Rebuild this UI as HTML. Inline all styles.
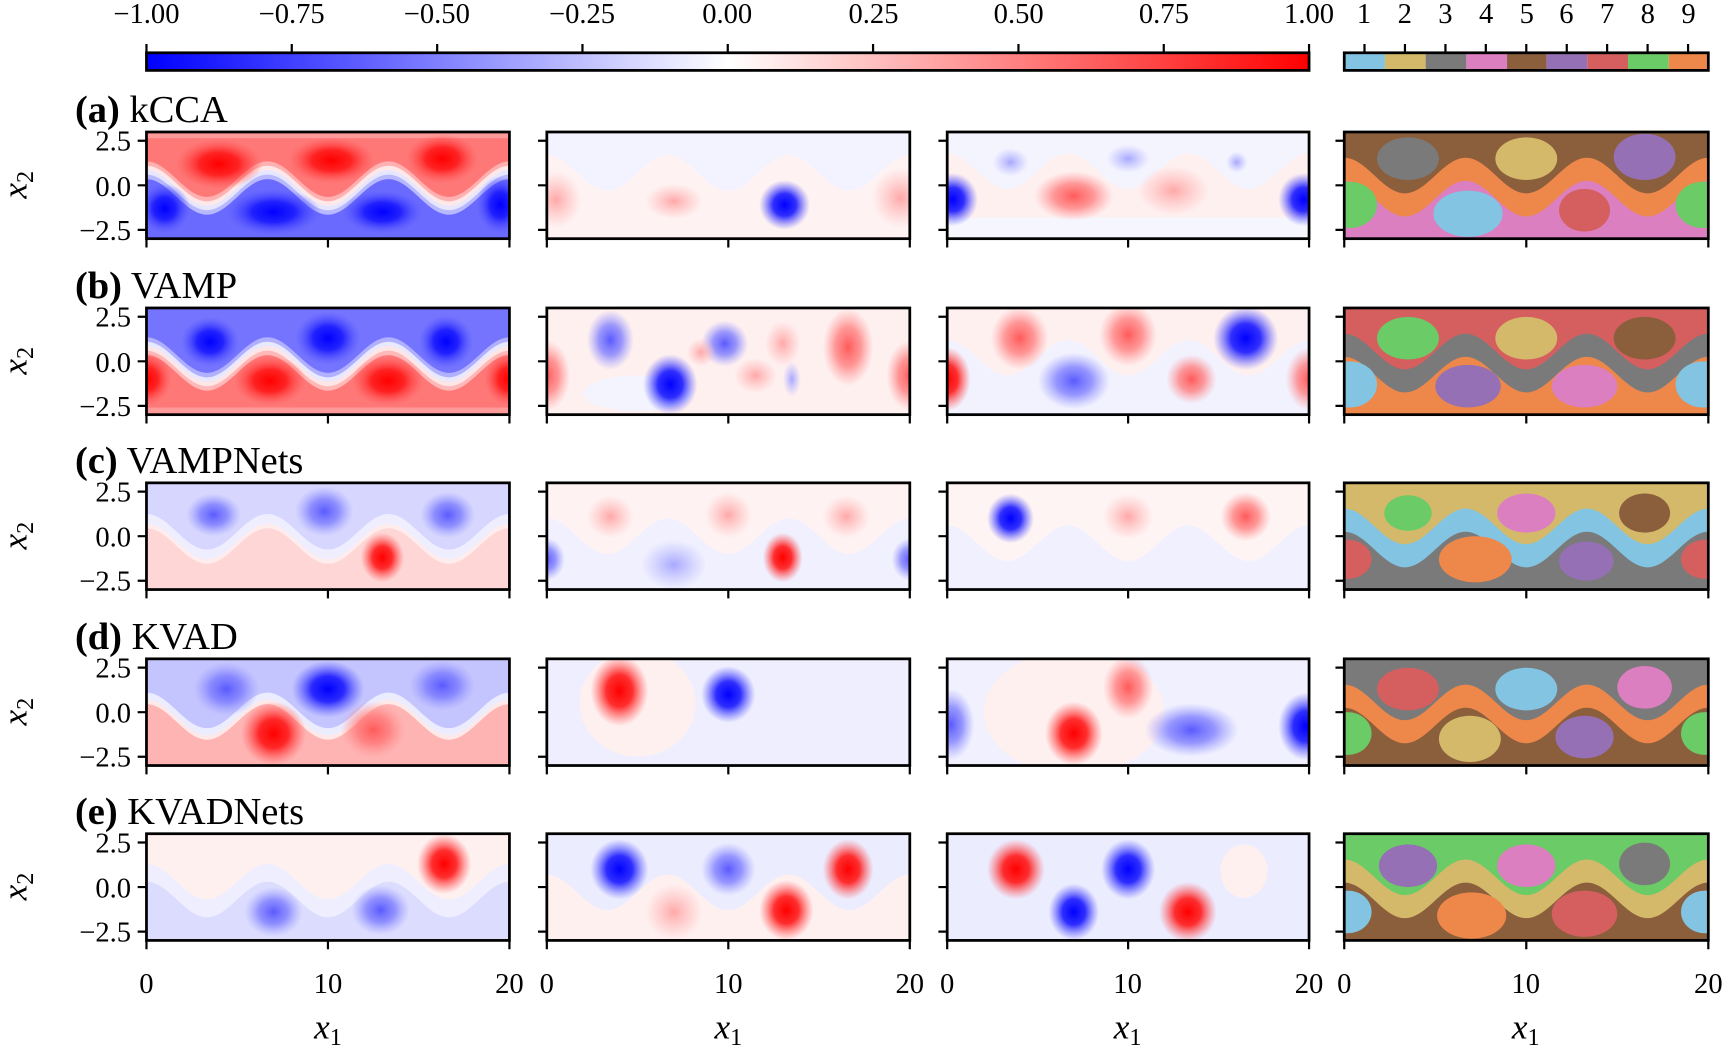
<!DOCTYPE html>
<html><head><meta charset="utf-8"><style>html,body{margin:0;padding:0;background:#fff}svg{display:block}text{font-family:"Liberation Serif",serif;fill:#000}</style></head><body>
<svg width="1725" height="1046" viewBox="0 0 1568 951" xmlns="http://www.w3.org/2000/svg">
<defs>
<linearGradient id="cb" x1="0" x2="1" y1="0" y2="0"><stop offset="0" stop-color="#0000ff"/><stop offset="0.5" stop-color="#ffffff"/><stop offset="1" stop-color="#ff0000"/></linearGradient>
<radialGradient id="gR"><stop offset="0" stop-color="#ff0000"/><stop offset="0.45" stop-color="#ff1818" stop-opacity="0.9"/><stop offset="1" stop-color="#ff5050" stop-opacity="0"/></radialGradient>
<radialGradient id="gRm"><stop offset="0" stop-color="#ff5a5a"/><stop offset="0.5" stop-color="#ff7070" stop-opacity="0.7"/><stop offset="1" stop-color="#ff9090" stop-opacity="0"/></radialGradient>
<radialGradient id="gRl"><stop offset="0" stop-color="#ffa8a8"/><stop offset="1" stop-color="#ffb8b8" stop-opacity="0"/></radialGradient>
<radialGradient id="gB"><stop offset="0" stop-color="#0000ff"/><stop offset="0.45" stop-color="#1818ff" stop-opacity="0.9"/><stop offset="1" stop-color="#5050ff" stop-opacity="0"/></radialGradient>
<radialGradient id="gBm"><stop offset="0" stop-color="#5a5aff"/><stop offset="0.5" stop-color="#7070ff" stop-opacity="0.7"/><stop offset="1" stop-color="#9090ff" stop-opacity="0"/></radialGradient>
<radialGradient id="gBl"><stop offset="0" stop-color="#a8a8ff"/><stop offset="1" stop-color="#b8b8ff" stop-opacity="0"/></radialGradient>
<path id="wv" d="M-1,-0.9 L0,-0.9 C1.214,-0.9 2.119,1.1 3.333,1.1 S5.453,-0.9 6.667,-0.9 S8.786,1.1 10,1.1 S12.12,-0.9 13.333,-0.9 S15.45,1.1 16.667,1.1 S18.786,-0.9 20,-0.9 L21,-0.9 L21,-6 L-1,-6Z"/>
</defs>

<!-- colorbars -->
<rect x="133" y="48" width="1057" height="16" fill="url(#cb)" stroke="#000" stroke-width="2.5"/>
<g stroke="#000" stroke-width="2"><path d="M133,40V48M265.1,40V48M397.3,40V48M529.4,40V48M661.5,40V48M793.6,40V48M925.8,40V48M1057.9,40V48M1190,40V48"/></g>
<g font-size="26" text-anchor="middle">
<text x="133" y="21">−1.00</text><text x="265" y="21">−0.75</text><text x="397" y="21">−0.50</text><text x="529" y="21">−0.25</text><text x="661" y="21">0.00</text><text x="794" y="21">0.25</text><text x="926" y="21">0.50</text><text x="1058" y="21">0.75</text><text x="1190" y="21">1.00</text>
</g>
<g>
<rect x="1222" y="48" width="37" height="16" fill="#82c4e1"/><rect x="1259" y="48" width="37" height="16" fill="#d4b96a"/><rect x="1296" y="48" width="37" height="16" fill="#7a7a7a"/><rect x="1333" y="48" width="37" height="16" fill="#dc7fc0"/><rect x="1370" y="48" width="36" height="16" fill="#8b5e3c"/><rect x="1406" y="48" width="37" height="16" fill="#9570b5"/><rect x="1443" y="48" width="37" height="16" fill="#d55f5f"/><rect x="1480" y="48" width="37" height="16" fill="#6bcb66"/><rect x="1517" y="48" width="36" height="16" fill="#ee874a"/>
<rect x="1222" y="48" width="331" height="16" fill="none" stroke="#000" stroke-width="2.5"/>
<path stroke="#000" stroke-width="2" d="M1240.4,40V48M1277.2,40V48M1314,40V48M1350.7,40V48M1387.5,40V48M1424.3,40V48M1461,40V48M1497.8,40V48M1534.6,40V48"/>
</g>
<g font-size="26" text-anchor="middle"><text x="1240" y="21">1</text><text x="1277" y="21">2</text><text x="1314" y="21">3</text><text x="1351" y="21">4</text><text x="1388" y="21">5</text><text x="1424" y="21">6</text><text x="1461" y="21">7</text><text x="1498" y="21">8</text><text x="1535" y="21">9</text></g>

<!-- titles -->
<g font-size="35"><text x="68" y="111"><tspan font-weight="bold">(a)</tspan> kCCA</text><text x="68" y="271"><tspan font-weight="bold">(b)</tspan> VAMP</text><text x="68" y="430"><tspan font-weight="bold">(c)</tspan> VAMPNets</text><text x="68" y="590"><tspan font-weight="bold">(d)</tspan> KVAD</text><text x="68" y="749"><tspan font-weight="bold">(e)</tspan> KVADNets</text></g>

<!-- ===== ROW A ===== -->
<svg x="133" y="120" width="330" height="97" viewBox="0 -3 20 6" preserveAspectRatio="none">
<rect x="0" y="-3" width="20" height="6" fill="#6a6aff"/>
<use href="#wv" fill="#b8b8ff" transform="translate(0,0.55)"/>
<use href="#wv" fill="#e6e6ff" transform="translate(0,0.3)"/>
<use href="#wv" fill="#ffe8e8" transform="translate(0,0.05)"/>
<use href="#wv" fill="#ffb0b0" transform="translate(0,-0.2)"/>
<use href="#wv" fill="#ff7878" transform="translate(0,-0.45)"/>
<rect x="0" y="-3" width="20" height="0.35" fill="#ff9a9a"/>
<ellipse cx="4" cy="-1.2" rx="2.4" ry="1.4" fill="url(#gR)"/><ellipse cx="10.2" cy="-1.4" rx="2.4" ry="1.3" fill="url(#gR)"/><ellipse cx="16.3" cy="-1.5" rx="2" ry="1.4" fill="url(#gR)"/>
<ellipse cx="1" cy="1.3" rx="1.4" ry="1.4" fill="url(#gB)"/><ellipse cx="7" cy="1.5" rx="2.6" ry="1.3" fill="url(#gB)"/><ellipse cx="13" cy="1.5" rx="2.2" ry="1.2" fill="url(#gB)"/><ellipse cx="19.5" cy="1.1" rx="1.3" ry="1.6" fill="url(#gB)"/>
</svg>
<svg x="497" y="120" width="330" height="97" viewBox="0 -3 20 6" preserveAspectRatio="none">
<rect x="0" y="-3" width="20" height="6" fill="#fff2f2"/>
<use href="#wv" fill="#f3f3ff" transform="translate(0,-0.8)"/>
<ellipse cx="0.5" cy="0.8" rx="1.4" ry="1.6" fill="url(#gRl)"/><ellipse cx="7" cy="0.9" rx="1.6" ry="1" fill="url(#gRl)"/><ellipse cx="19.5" cy="0.7" rx="1.6" ry="1.7" fill="url(#gRl)"/>
<ellipse cx="13.1" cy="1.1" rx="1.4" ry="1.4" fill="url(#gB)"/>
</svg>
<svg x="861" y="120" width="329" height="97" viewBox="0 -3 20 6" preserveAspectRatio="none">
<rect x="0" y="-3" width="20" height="6" fill="#fff0f0"/>
<use href="#wv" fill="#f4f4ff" transform="translate(0,-0.9)"/>
<rect x="0" y="1.8" width="20" height="1.2" fill="#f6f6ff"/>
<ellipse cx="0.3" cy="0.8" rx="1.4" ry="1.5" fill="url(#gB)"/><ellipse cx="19.7" cy="0.8" rx="1.4" ry="1.5" fill="url(#gB)"/>
<ellipse cx="7" cy="0.6" rx="2.2" ry="1.4" fill="url(#gRm)"/><ellipse cx="12.5" cy="0.3" rx="2" ry="1.4" fill="url(#gRl)"/><ellipse cx="3.5" cy="-1.3" rx="1" ry="0.8" fill="url(#gBl)"/><ellipse cx="10" cy="-1.5" rx="1.2" ry="0.8" fill="url(#gBl)"/><ellipse cx="16" cy="-1.3" rx="0.6" ry="0.6" fill="url(#gBl)"/>
</svg>
<svg x="1222" y="120" width="331" height="97" viewBox="0 -3 20 6" preserveAspectRatio="none">
<rect x="0" y="-3" width="20" height="6" fill="#dc7fc0"/>
<use href="#wv" fill="#ee874a" transform="translate(0,0.65)"/>
<use href="#wv" fill="#8b5e3c" transform="translate(0,-0.65)"/>
<ellipse cx="3.5" cy="-1.5" rx="1.7" ry="1.2" fill="#7a7a7a"/><ellipse cx="10" cy="-1.5" rx="1.7" ry="1.2" fill="#d4b96a"/><ellipse cx="16.5" cy="-1.6" rx="1.7" ry="1.3" fill="#9570b5"/>
<ellipse cx="0.3" cy="1.1" rx="1.5" ry="1.3" fill="#6bcb66"/><ellipse cx="19.7" cy="1.1" rx="1.5" ry="1.3" fill="#6bcb66"/><ellipse cx="6.8" cy="1.6" rx="1.9" ry="1.3" fill="#82c4e1"/><ellipse cx="13.2" cy="1.4" rx="1.4" ry="1.2" fill="#d55f5f"/>
</svg>

<!-- ===== ROW B ===== -->
<svg x="133" y="280" width="330" height="97" viewBox="0 -3 20 6" preserveAspectRatio="none">
<rect x="0" y="-3" width="20" height="6" fill="#ff7878"/>
<use href="#wv" fill="#ffb8b8" transform="translate(0,0.55)"/>
<use href="#wv" fill="#ffe6e6" transform="translate(0,0.3)"/>
<use href="#wv" fill="#e8e8ff" transform="translate(0,0.05)"/>
<use href="#wv" fill="#b0b0ff" transform="translate(0,-0.2)"/>
<use href="#wv" fill="#7474ff" transform="translate(0,-0.45)"/>
<rect x="0" y="2.6" width="20" height="0.4" fill="#ff9a9a"/>
<ellipse cx="3.5" cy="-1.1" rx="1.6" ry="1.4" fill="url(#gB)"/><ellipse cx="10" cy="-1.3" rx="1.8" ry="1.5" fill="url(#gB)"/><ellipse cx="16.5" cy="-1.1" rx="1.5" ry="1.5" fill="url(#gB)"/>
<ellipse cx="0" cy="1" rx="1.4" ry="1.5" fill="url(#gR)"/><ellipse cx="6.8" cy="1.1" rx="2" ry="1.4" fill="url(#gR)"/><ellipse cx="13.3" cy="1.1" rx="2" ry="1.4" fill="url(#gR)"/><ellipse cx="20" cy="1" rx="1.4" ry="1.5" fill="url(#gR)"/>
</svg>
<svg x="497" y="280" width="330" height="97" viewBox="0 -3 20 6" preserveAspectRatio="none">
<rect x="0" y="-3" width="20" height="6" fill="#fff0f0"/>
<ellipse cx="5" cy="1.8" rx="3" ry="1" fill="#f4f4ff"/>
<ellipse cx="3.5" cy="-1.2" rx="1.3" ry="1.7" fill="url(#gBm)"/><ellipse cx="9.8" cy="-1" rx="1.3" ry="1.3" fill="url(#gBm)"/>
<ellipse cx="6.8" cy="1.3" rx="1.5" ry="1.7" fill="url(#gB)"/>
<ellipse cx="16.6" cy="-0.8" rx="1.4" ry="2.2" fill="url(#gRm)"/><ellipse cx="0" cy="0.8" rx="1.3" ry="2" fill="url(#gRm)"/><ellipse cx="20" cy="0.8" rx="1.3" ry="2" fill="url(#gRm)"/>
<ellipse cx="13" cy="-1" rx="1" ry="1.3" fill="url(#gRl)"/><ellipse cx="11.5" cy="0.8" rx="1.2" ry="1" fill="url(#gRl)"/><ellipse cx="8.5" cy="-0.5" rx="0.8" ry="0.8" fill="url(#gRl)"/><ellipse cx="13.5" cy="1" rx="0.5" ry="1" fill="url(#gBl)"/>
</svg>
<svg x="861" y="280" width="329" height="97" viewBox="0 -3 20 6" preserveAspectRatio="none">
<rect x="0" y="-3" width="20" height="6" fill="#f2f2ff"/>
<use href="#wv" fill="#fff0f0" transform="translate(0,-0.3)"/>
<ellipse cx="4" cy="-1.3" rx="1.6" ry="1.8" fill="url(#gRm)"/><ellipse cx="10" cy="-1.5" rx="1.6" ry="1.8" fill="url(#gRm)"/>
<ellipse cx="16.5" cy="-1.3" rx="1.8" ry="1.8" fill="url(#gB)"/>
<ellipse cx="7" cy="1.1" rx="2" ry="1.6" fill="url(#gBm)"/><ellipse cx="13.5" cy="1" rx="1.4" ry="1.4" fill="url(#gRm)"/>
<ellipse cx="0" cy="1" rx="1.3" ry="1.8" fill="url(#gR)"/><ellipse cx="20" cy="1" rx="1.3" ry="1.8" fill="url(#gRm)"/>
</svg>
<svg x="1222" y="280" width="331" height="97" viewBox="0 -3 20 6" preserveAspectRatio="none">
<rect x="0" y="-3" width="20" height="6" fill="#ee874a"/>
<use href="#wv" fill="#7a7a7a" transform="translate(0,0.65)"/>
<use href="#wv" fill="#d55f5f" transform="translate(0,-0.65)"/>
<ellipse cx="3.5" cy="-1.3" rx="1.7" ry="1.2" fill="#6bcb66"/><ellipse cx="10" cy="-1.3" rx="1.7" ry="1.2" fill="#d4b96a"/><ellipse cx="16.5" cy="-1.3" rx="1.7" ry="1.2" fill="#8b5e3c"/>
<ellipse cx="0.3" cy="1.3" rx="1.5" ry="1.3" fill="#82c4e1"/><ellipse cx="19.7" cy="1.3" rx="1.5" ry="1.3" fill="#82c4e1"/><ellipse cx="6.8" cy="1.4" rx="1.8" ry="1.2" fill="#9570b5"/><ellipse cx="13.2" cy="1.4" rx="1.8" ry="1.2" fill="#dc7fc0"/>
</svg>

<!-- ===== ROW C ===== -->
<svg x="133" y="439" width="330" height="97" viewBox="0 -3 20 6" preserveAspectRatio="none">
<rect x="0" y="-3" width="20" height="6" fill="#ffd6d6"/>
<use href="#wv" fill="#ffecec" transform="translate(0,0.45)"/>
<use href="#wv" fill="#eeeeff" transform="translate(0,0.2)"/>
<use href="#wv" fill="#d6d6ff" transform="translate(0,-0.35)"/>
<ellipse cx="3.7" cy="-1.2" rx="1.5" ry="1.2" fill="url(#gBm)"/><ellipse cx="9.8" cy="-1.4" rx="1.6" ry="1.4" fill="url(#gBm)"/><ellipse cx="16.6" cy="-1.2" rx="1.5" ry="1.3" fill="url(#gBm)"/>
<ellipse cx="13" cy="1.2" rx="1.2" ry="1.4" fill="url(#gR)"/>
</svg>
<svg x="497" y="439" width="330" height="97" viewBox="0 -3 20 6" preserveAspectRatio="none">
<rect x="0" y="-3" width="20" height="6" fill="#f0f0ff"/>
<use href="#wv" fill="#fff2f2" transform="translate(0,-0.1)"/>
<ellipse cx="3.5" cy="-1.1" rx="1.3" ry="1.2" fill="url(#gRl)"/><ellipse cx="10" cy="-1.2" rx="1.3" ry="1.3" fill="url(#gRl)"/><ellipse cx="16.5" cy="-1.1" rx="1.3" ry="1.2" fill="url(#gRl)"/>
<ellipse cx="13" cy="1.2" rx="1.1" ry="1.4" fill="url(#gR)"/>
<ellipse cx="7" cy="1.6" rx="1.8" ry="1.4" fill="url(#gBl)"/><ellipse cx="0" cy="1.3" rx="1" ry="1.2" fill="url(#gBm)"/><ellipse cx="20" cy="1.3" rx="1" ry="1.2" fill="url(#gBm)"/>
</svg>
<svg x="861" y="439" width="329" height="97" viewBox="0 -3 20 6" preserveAspectRatio="none">
<rect x="0" y="-3" width="20" height="6" fill="#f0f0ff"/>
<use href="#wv" fill="#fff4f4" transform="translate(0,0.3)"/>
<ellipse cx="3.5" cy="-1" rx="1.3" ry="1.4" fill="url(#gB)"/>
<ellipse cx="10" cy="-1.1" rx="1.4" ry="1.3" fill="url(#gRl)"/><ellipse cx="16.5" cy="-1.1" rx="1.4" ry="1.4" fill="url(#gRm)"/>
</svg>
<svg x="1222" y="439" width="331" height="97" viewBox="0 -3 20 6" preserveAspectRatio="none">
<rect x="0" y="-3" width="20" height="6" fill="#7a7a7a"/>
<use href="#wv" fill="#82c4e1" transform="translate(0,0.65)"/>
<use href="#wv" fill="#d4b96a" transform="translate(0,-0.65)"/>
<ellipse cx="3.5" cy="-1.3" rx="1.3" ry="1" fill="#6bcb66"/><ellipse cx="10" cy="-1.3" rx="1.6" ry="1.1" fill="#dc7fc0"/><ellipse cx="16.5" cy="-1.3" rx="1.4" ry="1.1" fill="#8b5e3c"/>
<ellipse cx="0.2" cy="1.3" rx="1.3" ry="1.1" fill="#d55f5f"/><ellipse cx="19.8" cy="1.3" rx="1.3" ry="1.1" fill="#d55f5f"/><ellipse cx="7.2" cy="1.3" rx="2" ry="1.3" fill="#ee874a"/><ellipse cx="13.3" cy="1.4" rx="1.5" ry="1.1" fill="#9570b5"/>
</svg>

<!-- ===== ROW D ===== -->
<svg x="133" y="599" width="330" height="97" viewBox="0 -3 20 6" preserveAspectRatio="none">
<rect x="0" y="-3" width="20" height="6" fill="#ffb4b4"/>
<use href="#wv" fill="#ffe8e8" transform="translate(0,0.45)"/>
<use href="#wv" fill="#ececff" transform="translate(0,0.2)"/>
<use href="#wv" fill="#c4c4ff" transform="translate(0,-0.2)"/>
<ellipse cx="4.4" cy="-1.3" rx="1.8" ry="1.5" fill="url(#gBm)"/><ellipse cx="10" cy="-1.3" rx="2" ry="1.6" fill="url(#gB)"/><ellipse cx="16.3" cy="-1.5" rx="1.8" ry="1.4" fill="url(#gBm)"/>
<ellipse cx="7" cy="1.2" rx="1.8" ry="1.8" fill="url(#gR)"/><ellipse cx="12.5" cy="1" rx="1.8" ry="1.6" fill="url(#gRm)"/>
</svg>
<svg x="497" y="599" width="330" height="97" viewBox="0 -3 20 6" preserveAspectRatio="none">
<rect x="0" y="-3" width="20" height="6" fill="#eeeeff"/>
<ellipse cx="5" cy="-0.5" rx="3.2" ry="3" fill="#fff0f0"/>
<ellipse cx="4" cy="-1.2" rx="1.6" ry="2" fill="url(#gR)"/>
<ellipse cx="10" cy="-1" rx="1.5" ry="1.6" fill="url(#gB)"/>
</svg>
<svg x="861" y="599" width="329" height="97" viewBox="0 -3 20 6" preserveAspectRatio="none">
<rect x="0" y="-3" width="20" height="6" fill="#f0f0ff"/>
<ellipse cx="7" cy="0" rx="5" ry="3.5" fill="#fff0f0"/>
<ellipse cx="10" cy="-1.4" rx="1.4" ry="1.8" fill="url(#gRm)"/>
<ellipse cx="7" cy="1.2" rx="1.6" ry="1.8" fill="url(#gR)"/>
<ellipse cx="13.5" cy="1" rx="2.6" ry="1.5" fill="url(#gBm)"/><ellipse cx="19.8" cy="0.8" rx="1.5" ry="1.9" fill="url(#gB)"/><ellipse cx="0.2" cy="0.7" rx="1.3" ry="2" fill="url(#gBm)"/>
</svg>
<svg x="1222" y="599" width="331" height="97" viewBox="0 -3 20 6" preserveAspectRatio="none">
<rect x="0" y="-3" width="20" height="6" fill="#8b5e3c"/>
<use href="#wv" fill="#ee874a" transform="translate(0,0.65)"/>
<use href="#wv" fill="#7a7a7a" transform="translate(0,-0.65)"/>
<ellipse cx="3.5" cy="-1.3" rx="1.7" ry="1.2" fill="#d55f5f"/><ellipse cx="10" cy="-1.3" rx="1.7" ry="1.2" fill="#82c4e1"/><ellipse cx="16.5" cy="-1.4" rx="1.5" ry="1.2" fill="#dc7fc0"/>
<ellipse cx="0.2" cy="1.2" rx="1.3" ry="1.2" fill="#6bcb66"/><ellipse cx="19.8" cy="1.2" rx="1.3" ry="1.2" fill="#6bcb66"/><ellipse cx="6.9" cy="1.5" rx="1.7" ry="1.3" fill="#d4b96a"/><ellipse cx="13.2" cy="1.4" rx="1.6" ry="1.2" fill="#9570b5"/>
</svg>

<!-- ===== ROW E ===== -->
<svg x="133" y="758" width="330" height="97" viewBox="0 -3 20 6" preserveAspectRatio="none">
<rect x="0" y="-3" width="20" height="6" fill="#dcdcff"/>
<use href="#wv" fill="#eeeeff" transform="translate(0,0.6)"/>
<use href="#wv" fill="#fff0f0" transform="translate(0,-0.4)"/>
<ellipse cx="16.4" cy="-1.3" rx="1.5" ry="1.7" fill="url(#gR)"/>
<ellipse cx="7" cy="1.4" rx="1.6" ry="1.4" fill="url(#gBm)"/><ellipse cx="12.9" cy="1.3" rx="1.6" ry="1.4" fill="url(#gBm)"/>
</svg>
<svg x="497" y="758" width="330" height="97" viewBox="0 -3 20 6" preserveAspectRatio="none">
<rect x="0" y="-3" width="20" height="6" fill="#fff0f0"/>
<use href="#wv" fill="#ececff" transform="translate(0,0.2)"/>
<ellipse cx="4" cy="-1" rx="1.6" ry="1.7" fill="url(#gB)"/><ellipse cx="10" cy="-1" rx="1.5" ry="1.5" fill="url(#gBm)"/><ellipse cx="16.6" cy="-1" rx="1.4" ry="1.7" fill="url(#gR)"/>
<ellipse cx="7" cy="1.4" rx="1.6" ry="1.6" fill="url(#gRl)"/><ellipse cx="13.2" cy="1.3" rx="1.5" ry="1.7" fill="url(#gR)"/>
</svg>
<svg x="861" y="758" width="329" height="97" viewBox="0 -3 20 6" preserveAspectRatio="none">
<rect x="0" y="-3" width="20" height="6" fill="#ececff"/>
<ellipse cx="16.4" cy="-0.9" rx="1.3" ry="1.5" fill="#fff0f0"/>
<ellipse cx="3.8" cy="-1" rx="1.6" ry="1.7" fill="url(#gR)"/><ellipse cx="10" cy="-1" rx="1.5" ry="1.7" fill="url(#gB)"/>
<ellipse cx="7" cy="1.4" rx="1.4" ry="1.6" fill="url(#gB)"/><ellipse cx="13.3" cy="1.4" rx="1.6" ry="1.7" fill="url(#gR)"/>
</svg>
<svg x="1222" y="758" width="331" height="97" viewBox="0 -3 20 6" preserveAspectRatio="none">
<rect x="0" y="-3" width="20" height="6" fill="#8b5e3c"/>
<use href="#wv" fill="#d4b96a" transform="translate(0,0.65)"/>
<use href="#wv" fill="#6bcb66" transform="translate(0,-0.65)"/>
<ellipse cx="3.5" cy="-1.2" rx="1.6" ry="1.2" fill="#9570b5"/><ellipse cx="10" cy="-1.2" rx="1.6" ry="1.2" fill="#dc7fc0"/><ellipse cx="16.5" cy="-1.3" rx="1.4" ry="1.2" fill="#7a7a7a"/>
<ellipse cx="0.2" cy="1.4" rx="1.3" ry="1.2" fill="#82c4e1"/><ellipse cx="19.8" cy="1.4" rx="1.3" ry="1.2" fill="#82c4e1"/><ellipse cx="7" cy="1.6" rx="1.9" ry="1.3" fill="#ee874a"/><ellipse cx="13.2" cy="1.5" rx="1.8" ry="1.3" fill="#d55f5f"/>
</svg>

<!-- frames and ticks -->
<g fill="none" stroke="#000" stroke-width="2.5">
<rect x="133" y="120" width="330" height="97"/><rect x="497" y="120" width="330" height="97"/><rect x="861" y="120" width="329" height="97"/><rect x="1222" y="120" width="331" height="97"/>
<rect x="133" y="280" width="330" height="97"/><rect x="497" y="280" width="330" height="97"/><rect x="861" y="280" width="329" height="97"/><rect x="1222" y="280" width="331" height="97"/>
<rect x="133" y="439" width="330" height="97"/><rect x="497" y="439" width="330" height="97"/><rect x="861" y="439" width="329" height="97"/><rect x="1222" y="439" width="331" height="97"/>
<rect x="133" y="599" width="330" height="97"/><rect x="497" y="599" width="330" height="97"/><rect x="861" y="599" width="329" height="97"/><rect x="1222" y="599" width="331" height="97"/>
<rect x="133" y="758" width="330" height="97"/><rect x="497" y="758" width="330" height="97"/><rect x="861" y="758" width="329" height="97"/><rect x="1222" y="758" width="331" height="97"/>
</g>
<g stroke="#000" stroke-width="2">
<path d="M125,128H133M125,168.5H133M125,209H133M489,128H497M489,168.5H497M489,209H497M853,128H861M853,168.5H861M853,209H861M1214,128H1222M1214,168.5H1222M1214,209H1222"/>
<path d="M125,288H133M125,328.5H133M125,369H133M489,288H497M489,328.5H497M489,369H497M853,288H861M853,328.5H861M853,369H861M1214,288H1222M1214,328.5H1222M1214,369H1222"/>
<path d="M125,447H133M125,487.5H133M125,528H133M489,447H497M489,487.5H497M489,528H497M853,447H861M853,487.5H861M853,528H861M1214,447H1222M1214,487.5H1222M1214,528H1222"/>
<path d="M125,607H133M125,647.5H133M125,688H133M489,607H497M489,647.5H497M489,688H497M853,607H861M853,647.5H861M853,688H861M1214,607H1222M1214,647.5H1222M1214,688H1222"/>
<path d="M125,766H133M125,806.5H133M125,847H133M489,766H497M489,806.5H497M489,847H497M853,766H861M853,806.5H861M853,847H861M1214,766H1222M1214,806.5H1222M1214,847H1222"/>
<path d="M133,217v8M298,217v8M463,217v8M497,217v8M662,217v8M827,217v8M861,217v8M1025.5,217v8M1190,217v8M1222,217v8M1387.5,217v8M1553,217v8"/>
<path d="M133,377v8M298,377v8M463,377v8M497,377v8M662,377v8M827,377v8M861,377v8M1025.5,377v8M1190,377v8M1222,377v8M1387.5,377v8M1553,377v8"/>
<path d="M133,536v8M298,536v8M463,536v8M497,536v8M662,536v8M827,536v8M861,536v8M1025.5,536v8M1190,536v8M1222,536v8M1387.5,536v8M1553,536v8"/>
<path d="M133,696v8M298,696v8M463,696v8M497,696v8M662,696v8M827,696v8M861,696v8M1025.5,696v8M1190,696v8M1222,696v8M1387.5,696v8M1553,696v8"/>
<path d="M133,855v8M298,855v8M463,855v8M497,855v8M662,855v8M827,855v8M861,855v8M1025.5,855v8M1190,855v8M1222,855v8M1387.5,855v8M1553,855v8"/>
</g>
<!-- y tick labels -->
<g font-size="26" text-anchor="end">
<text x="119" y="137">2.5</text><text x="119" y="178">0.0</text><text x="119" y="218">−2.5</text>
<text x="119" y="297">2.5</text><text x="119" y="338">0.0</text><text x="119" y="378">−2.5</text>
<text x="119" y="456">2.5</text><text x="119" y="497">0.0</text><text x="119" y="537">−2.5</text>
<text x="119" y="616">2.5</text><text x="119" y="657">0.0</text><text x="119" y="697">−2.5</text>
<text x="119" y="775">2.5</text><text x="119" y="816">0.0</text><text x="119" y="856">−2.5</text>
</g>
<g font-size="32" font-style="italic">
<text transform="translate(24,168) rotate(-90)" text-anchor="middle">x<tspan font-size="22" font-style="normal" dy="6">2</tspan></text>
<text transform="translate(24,328) rotate(-90)" text-anchor="middle">x<tspan font-size="22" font-style="normal" dy="6">2</tspan></text>
<text transform="translate(24,487) rotate(-90)" text-anchor="middle">x<tspan font-size="22" font-style="normal" dy="6">2</tspan></text>
<text transform="translate(24,647) rotate(-90)" text-anchor="middle">x<tspan font-size="22" font-style="normal" dy="6">2</tspan></text>
<text transform="translate(24,806) rotate(-90)" text-anchor="middle">x<tspan font-size="22" font-style="normal" dy="6">2</tspan></text>
</g>
<!-- x tick labels -->
<g font-size="26" text-anchor="middle">
<text x="133" y="903">0</text><text x="298" y="903">10</text><text x="463" y="903">20</text>
<text x="497" y="903">0</text><text x="662" y="903">10</text><text x="827" y="903">20</text>
<text x="861" y="903">0</text><text x="1025" y="903">10</text><text x="1190" y="903">20</text>
<text x="1222" y="903">0</text><text x="1387" y="903">10</text><text x="1553" y="903">20</text>
</g>
<g font-size="32" font-style="italic" text-anchor="middle">
<text x="298" y="944">x<tspan font-size="22" font-style="normal" dy="6">1</tspan></text>
<text x="662" y="944">x<tspan font-size="22" font-style="normal" dy="6">1</tspan></text>
<text x="1025" y="944">x<tspan font-size="22" font-style="normal" dy="6">1</tspan></text>
<text x="1387" y="944">x<tspan font-size="22" font-style="normal" dy="6">1</tspan></text>
</g>
</svg>
</body></html>
